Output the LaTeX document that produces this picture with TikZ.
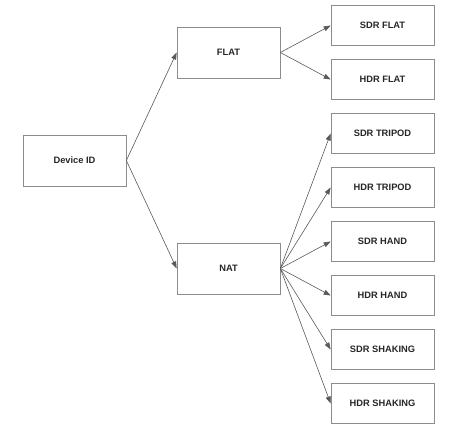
\documentclass[tikz,border=0pt]{standalone}
\usepackage{fontspec}
\setmainfont{Liberation Sans}
\usetikzlibrary{arrows.meta}

\begin{document}
\begin{tikzpicture}[
    x=1pt, y=1pt,
    grow'=right,
    level distance=154pt,
    level 1/.style = {sibling distance=216pt},
    level 2/.style = {sibling distance=54pt},
    every node/.style={draw=black!45, line width=0.7pt, minimum width=103pt, minimum height=40pt,
        font=\fontsize{9.3}{11}\selectfont\bfseries, text=black!85},
    tallbox/.style={minimum height=51pt},
    edge from parent/.style={draw=black!65, line width=0.6pt, -{Triangle[length=7pt,width=5pt]}},
    edge from parent path={(\tikzparentnode.east) -- (\tikzchildnode.west)}
]
\useasboundingbox (0,0) rectangle (474,-431);
\node[tallbox] (devid) at (74.5,-160.5) {Device ID}
    child { node[tallbox] (flat) {FLAT}
        child { node (sdrflat) {SDR FLAT} }
        child { node (hdrflat) {HDR FLAT} }
    }
    child { node[tallbox] (nat) {NAT}
        child { node (sdrtripod) {SDR TRIPOD} }
        child { node (hdrtripod) {HDR TRIPOD} }
        child { node (sdrhand) {SDR HAND} }
        child { node (hdrhand) {HDR HAND} }
        child { node (sdrshaking) {SDR SHAKING} }
        child { node (hdrshaking) {HDR SHAKING} }
    };
\end{tikzpicture}
\end{document}
